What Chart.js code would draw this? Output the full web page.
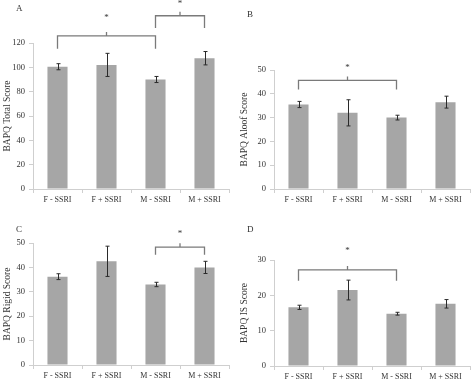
<!DOCTYPE html>
<html><head><meta charset="utf-8">
<script src="https://cdn.jsdelivr.net/npm/chart.js@4.4.1/dist/chart.umd.min.js"></script>
<style>
html,body{margin:0;padding:0;background:#fff;width:474px;height:379px;overflow:hidden;}
.p{position:absolute;}
.lbl{position:absolute;font-family:"Liberation Serif",serif;font-size:9px;color:#333;}
</style></head><body>
<div class="p" style="left:0;top:0;width:237px;height:210px"><canvas id="cA" width="237" height="210"></canvas></div>
<div class="p" style="left:237px;top:0;width:237px;height:210px"><canvas id="cB" width="237" height="210"></canvas></div>
<div class="p" style="left:0;top:210px;width:237px;height:169px"><canvas id="cC" width="237" height="169"></canvas></div>
<div class="p" style="left:237px;top:210px;width:237px;height:169px"><canvas id="cD" width="237" height="169"></canvas></div>
<div class="lbl" style="left:16px;top:3px">A</div>
<div class="lbl" style="left:247px;top:9px">B</div>
<div class="lbl" style="left:16px;top:224px">C</div>
<div class="lbl" style="left:247px;top:224px">D</div>
<script>
const categories = ['F - SSRI', 'F + SSRI', 'M - SSRI', 'M + SSRI'];

const totalMeans = [100.5, 102, 90, 107.5];
const totalErr   = [2.5, 9.5, 2.5, 5.5];
const aloofMeans = [35.5, 32, 30, 36.5];
const aloofErr   = [1.3, 5.5, 1.0, 2.5];
const rigidMeans = [36.2, 42.5, 33, 40];
const rigidErr   = [1.2, 6.2, 0.9, 2.5];
const isMeans    = [16.6, 21.5, 14.8, 17.6];
const isErr      = [0.6, 2.8, 0.4, 1.2];

// significance brackets: [fromIndex, toIndex, barLevel, legBottom, starLevel] (data units)
const totalBrackets = [[0, 2, 125.8, 115.3, 142.2], [2, 3, 142.4, 132.3, 154.3]];
const aloofBrackets = [[0, 2, 45.6, 41.8, 51.8]];
const rigidBrackets = [[2, 3, 48.3, 45.2, 54.5]];
const isBrackets    = [[0, 2, 27.2, 24.1, 33.3]];

const SERIF = '"Liberation Serif", "Times New Roman", serif';

const sigPlugin = {
  id: 'sig',
  afterDatasetsDraw(chart, args, opts) {
    const ctx = chart.ctx;
    const y = chart.scales.y;
    const meta = chart.getDatasetMeta(0);
    const vals = chart.data.datasets[0].data;
    ctx.save();
    ctx.strokeStyle = '#2a2a2a';
    ctx.lineWidth = 1;
    (opts.errors || []).forEach((e, i) => {
      const x = Math.round(meta.data[i].x) + 0.5;
      const yt = y.getPixelForValue(vals[i] + e);
      const yb = y.getPixelForValue(vals[i] - e);
      ctx.beginPath();
      ctx.moveTo(x, yt); ctx.lineTo(x, yb);
      ctx.moveTo(x - 2, yt); ctx.lineTo(x + 2, yt);
      ctx.moveTo(x - 2, yb); ctx.lineTo(x + 2, yb);
      ctx.stroke();
    });
    ctx.strokeStyle = '#7a7a7a';
    ctx.lineWidth = 1.3;
    (opts.brackets || []).forEach(b => {
      const x1 = meta.data[b[0]].x, x2 = meta.data[b[1]].x;
      const yl = y.getPixelForValue(b[2]);
      const yleg = y.getPixelForValue(b[3]);
      const xm = (x1 + x2) / 2;
      ctx.beginPath();
      ctx.moveTo(x1, yleg); ctx.lineTo(x1, yl); ctx.lineTo(x2, yl); ctx.lineTo(x2, yleg);
      ctx.moveTo(xm, yl); ctx.lineTo(xm, yl - 4);
      ctx.stroke();
      ctx.fillStyle = '#333';
      ctx.font = '9px ' + SERIF;
      ctx.textAlign = 'center';
      ctx.textBaseline = 'middle';
      ctx.fillText('*', xm, y.getPixelForValue(b[4]) + 2);
    });
    ctx.restore();
  }
};

function makeChart(id, means, errs, brackets, title, yMax, yStep, pad, yWidth, xHeight) {
  return new Chart(document.getElementById(id), {
    type: 'bar',
    data: {
      labels: categories,
      datasets: [{ data: means, backgroundColor: '#a6a6a6', borderWidth: 0,
                   barPercentage: 0.41, categoryPercentage: 1 }]
    },
    options: {
      responsive: false,
      animation: false,
      events: [],
      layout: { padding: pad },
      plugins: {
        legend: { display: false },
        tooltip: { enabled: false },
        sig: { errors: errs, brackets: brackets }
      },
      scales: {
        x: {
          grid: { display: true, drawOnChartArea: false, drawTicks: true, tickLength: 4, color: '#cfcfcf', offset: true },
          border: { display: true, color: '#cfcfcf', width: 1 },
          ticks: { color: '#333', font: { family: SERIF, size: 8 }, padding: 2, maxRotation: 0, autoSkip: false },
          afterFit(s) { s.height = xHeight; }
        },
        y: {
          min: 0, max: yMax,
          grid: { display: true, drawOnChartArea: false, drawTicks: true, tickLength: 4, color: '#cfcfcf' },
          border: { display: true, color: '#cfcfcf', width: 1 },
          ticks: { stepSize: yStep, color: '#333', font: { family: SERIF, size: 8.5 }, padding: 4 },
          title: { display: true, text: title, color: '#333', font: { family: SERIF, size: 9.5 }, padding: { top: 2, bottom: 0 } },
          afterFit(s) { s.width = yWidth; }
        }
      }
    },
    plugins: [sigPlugin]
  });
}

makeChart('cA', totalMeans, totalErr, totalBrackets, 'BAPQ Total Score', 120, 20, { top: 43, right: 8, bottom: 0, left: 0 }, 33, 21);
makeChart('cB', aloofMeans, aloofErr, aloofBrackets, 'BAPQ Aloof Score', 50, 10, { top: 70, right: 4, bottom: 0, left: 0 }, 37, 21);
makeChart('cC', rigidMeans, rigidErr, rigidBrackets, 'BAPQ Rigid Score', 50, 10, { top: 33, right: 8, bottom: 0, left: 0 }, 33, 14);
makeChart('cD', isMeans, isErr, isBrackets, 'BAPQ IS Score', 30, 10, { top: 50, right: 4, bottom: 0, left: 0 }, 37, 13);
</script>
</body></html>
